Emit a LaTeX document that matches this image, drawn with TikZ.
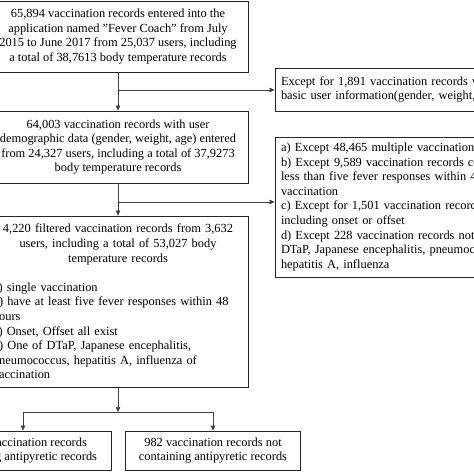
\documentclass[tikz,border=0pt]{standalone}
\usepackage{fontspec}
\setmainfont{Liberation Serif}[Ligatures=ResetAll]
\usetikzlibrary{arrows.meta}
\begin{document}
\begin{tikzpicture}[x=1pt,y=-1pt,
  box/.style={draw=black!85, line width=0.8pt, rectangle, inner ysep=0pt,
    font=\fontsize{12.4}{14.6}\selectfont},
  cbox/.style={box, align=center, inner xsep=0pt},
  lbox/.style={box, text width=300pt, inner xsep=6pt, align=left},
  arr/.style={draw=black!75, line width=0.7pt, -{Triangle[length=5pt,width=4.5pt]}}]
\useasboundingbox (0,0) rectangle (474,474);
\clip (0,0) rectangle (474,474);

\node[cbox, minimum width=260pt, minimum height=71pt] (b1) at (118,36.5)
  {65,894 vaccination records entered into the\\
   application named "Fever Coach" from July\\
   2015 to June 2017 from 25,037 users, including\\
   a total of 38,7613 body temperature records};

\node[lbox, minimum height=43pt] (rb1) at (431,89.5)
  {Except for 1,891 vaccination records without\\
   basic user information(gender, weight, age)};

\node[cbox, minimum width=260pt, minimum height=72pt] (b2) at (118,147)
  {64,003 vaccination records with user\\
   demographic data (gender, weight, age) entered\\
   from 24,327 users, including a total of 37,9273\\
   body temperature records};

\node[lbox, minimum height=140pt] (rb2) at (431,207)
  {a) Except 48,465 multiple vaccinations\\
   b) Except 9,589 vaccination records containing\\
   less than five fever responses within 48 hours after\\
   vaccination\\
   c) Except for 1,501 vaccination records not\\
   including onset or offset\\
   d) Except 228 vaccination records not of\\
   DTaP, Japanese encephalitis, pneumococcus,\\
   hepatitis A, influenza};

\node[box, text width=250pt, inner xsep=5pt, minimum height=171pt, align=left] (b3) at (118,301.5)
  {{\centering 4,220 filtered vaccination records from 3,632\\
   users, including a total of 53,027 body\\
   temperature records\par}
   \vspace{14.6pt}
   a) single vaccination\\
   b) have at least five fever responses within 48\\
   hours\\
   c) Onset, Offset all exist\\
   d) One of DTaP, Japanese encephalitis,\\
   pneumococcus, hepatitis A, influenza of\\
   vaccination};

\node[cbox, minimum width=176pt, minimum height=39pt] (bl) at (23,450.5)
  {3,238 vaccination records\\ containing antipyretic records};
\node[cbox, minimum width=175pt, minimum height=39pt] (br) at (213,450.5)
  {982 vaccination records not\\ containing antipyretic records};

\coordinate (j1) at (118,90);
\coordinate (j2) at (118,202);
\coordinate (j3) at (118,412);

\draw[arr] (b1.south) -- (b2.north);
\draw[arr] (j1) -- (j1 -| rb1.west);
\draw[arr] (b2.south) -- (b3.north);
\draw[arr] (j2) -- (j2 -| rb2.west);
\draw[arr] (b3.south) -- (j3);
\draw[arr] (j3) -| (bl.north);
\draw[arr] (j3) -| (br.north);
\end{tikzpicture}
\end{document}
